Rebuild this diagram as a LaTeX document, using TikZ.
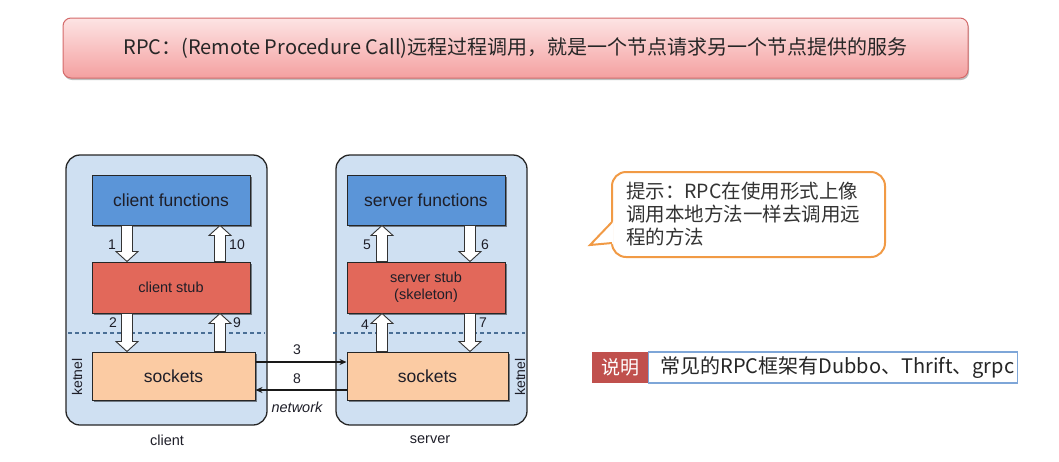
\documentclass[tikz,border=0pt]{standalone}
\usepackage{fontspec}
\setmainfont{Liberation Sans}
\newfontfamily\cjk{Noto Sans CJK SC}
\usetikzlibrary{calc,arrows.meta,shadows}
\definecolor{panelfill}{HTML}{CFE0F2}
\definecolor{funcblue}{HTML}{5B95D8}
\definecolor{stubred}{HTML}{E2685A}
\definecolor{sockpeach}{HTML}{FBCBA3}
\definecolor{textdark}{HTML}{1E1E28}
\definecolor{dashblue}{HTML}{4A6F96}
\definecolor{calloutorange}{HTML}{F19A45}
\definecolor{notered}{HTML}{C0504D}
\definecolor{noteblue}{HTML}{7EA6D8}
\definecolor{bannerborder}{HTML}{D46A6A}
\definecolor{bannertop}{HTML}{FDE4E4}
\definecolor{bannerbot}{HTML}{F4A0A0}
\newcommand\bkdown[3]{\path[blk] let \p1=(#2.south), \p2=(#3.north) in
  ({(#1-5.5)*1pt},\y1) -- ({(#1-5.5)*1pt},{\y2+10pt}) -- ({(#1-11)*1pt},{\y2+10pt}) -- ({#1*1pt},\y2)
  -- ({(#1+11)*1pt},{\y2+10pt}) -- ({(#1+5.5)*1pt},{\y2+10pt}) -- ({(#1+5.5)*1pt},\y1) -- cycle;}
\newcommand\bkup[3]{\path[blk] let \p1=(#2.north), \p2=(#3.south) in
  ({(#1-5.5)*1pt},\y1) -- ({(#1-5.5)*1pt},{\y2-10pt}) -- ({(#1-11)*1pt},{\y2-10pt}) -- ({#1*1pt},\y2)
  -- ({(#1+11)*1pt},{\y2-10pt}) -- ({(#1+5.5)*1pt},{\y2-10pt}) -- ({(#1+5.5)*1pt},\y1) -- cycle;}
\begin{document}
\begin{tikzpicture}[x=1pt,y=-1pt,
  panel/.style={draw=black!85, line width=1.3pt, fill=panelfill, rounded corners=14pt, inner sep=0pt},
  boxbase/.style={draw=black!85, line width=1pt, inner sep=0pt, text=textdark,
    drop shadow={shadow xshift=1.5pt, shadow yshift=-1.5pt, opacity=.45, fill=black}},
  func/.style={boxbase, fill=funcblue, minimum width=158pt, minimum height=50pt, font=\fontsize{17.5}{20}\selectfont},
  stub/.style={boxbase, fill=stubred, minimum width=158pt, minimum height=51pt, font=\fontsize{14.5}{18}\selectfont, align=center},
  sock/.style={boxbase, fill=sockpeach, minimum height=48pt, font=\fontsize{17.5}{20}\selectfont},
  blk/.style={draw=black!80, fill=white, line width=0.9pt, line join=miter},
  num/.style={font=\fontsize{14}{16}\selectfont, text=textdark, inner sep=0pt},
  dashsep/.style={draw=dashblue, line width=1.4pt, dash pattern=on 4pt off 3pt},
  netline/.style={draw=black!90, line width=1.1pt},
  small/.style={font=\fontsize{14.5}{17}\selectfont, text=textdark, inner sep=0pt},
  cjktext/.style={font=\cjk\fontsize{20}{23}\selectfont, text=black!85}
]
\useasboundingbox (0,0) rectangle (1059,461);

% banner
\node[draw=bannerborder, line width=1pt, rounded corners=8pt, top color=bannertop, bottom color=bannerbot,
  minimum width=905pt, minimum height=60pt, inner sep=0pt, cjktext,
  drop shadow={shadow xshift=1pt, shadow yshift=-2pt, opacity=.25, fill=black}]
  (banner) at (515.5,48) {RPC：(Remote Procedure Call)远程过程调用，就是一个节点请求另一个节点提供的服务};

% panels
\node[panel, minimum width=201pt, minimum height=270pt] (cp) at (166.5,290) {};
\node[panel, minimum width=191pt, minimum height=270pt] (sp) at (431.5,290) {};

% dashed kernel boundaries
\coordinate (cdl) at (68,333); \coordinate (cdr) at (265,333);
\coordinate (sdl) at (333,333); \coordinate (sdr) at (525,333);
\draw[dashsep] (cdl) -- (cdr);
\draw[dashsep] (sdl) -- (sdr);

% client boxes
\node[func] (cf) at (171,200) {client functions};
\node[stub] (cs) at (171,287.5) {client stub};
\node[sock, minimum width=163pt] (cso) at (173.5,376) {sockets};
% server boxes
\node[func] (sf) at (426,200) {server functions};
\node[stub] (ss) at (426,287.5) {server stub\\[-1pt](skeleton)};
\node[sock, minimum width=161pt] (sso) at (427.5,376) {sockets};

% block arrows
\bkdown{127}{cf}{cs}
\bkup{220}{cs}{cf}
\bkdown{127}{cs}{cso}
\bkup{220}{cso}{cs}
\bkup{382}{ss}{sf}
\bkdown{470}{sf}{ss}
\bkup{382}{sso}{ss}
\bkdown{470}{ss}{sso}

% step numbers
\node[num] (n1) at (112,245) {1};
\node[num] (n10) at (237,245) {10};
\node[num] (n2) at (113,323) {2};
\node[num] (n9) at (237,323) {9};
\node[num] (n5) at (367,245) {5};
\node[num] (n6) at (485,245) {6};
\node[num] (n4) at (365,325) {4};
\node[num] (n7) at (483,323) {7};

% network
\draw[netline,-{Stealth[length=7pt,width=6pt]}] ([yshift=14pt]cso.east) -- ([yshift=14pt]sso.west);
\draw[netline,-{Stealth[length=7pt,width=6pt]}] ([yshift=-14pt]sso.west) -- ([yshift=-14pt]cso.east);
\node[num] (n3) at (297,350) {3};
\node[num] (n8) at (297,379) {8};
\node[small, font=\itshape\fontsize{14.5}{17}\selectfont] (net) at (297,407) {network};

% kernel labels
\node[small, rotate=90, font=\fontsize{14}{16}\selectfont] (kc) at (77,377) {ketnel};
\node[small, rotate=90, font=\fontsize{14}{16}\selectfont] (ks) at (520,377) {ketnel};
\node[small] (cl) at (167,440) {client};
\node[small] (sl) at (430,440) {server};

% callout
\node[draw=calloutorange, line width=2pt, fill=white, rounded corners=14pt,
  minimum width=273pt, minimum height=85pt, text width=245pt, inner xsep=14pt, inner ysep=0pt,
  align=left, cjktext, font=\cjk\fontsize{19.5}{23}\selectfont, text=black!80] (tip) at (748.5,214.5)
  {提示：RPC在使用形式上像\\调用本地方法一样去调用远\\程的方法};
\coordinate (tail) at (590,245);
\fill[white] (613.5,221) -- (tail) -- (613.5,244) -- cycle;
\draw[calloutorange, line width=2pt, line join=miter] (612,222) -- (tail) -- (612,243);

% note
\node[fill=notered, minimum width=56pt, minimum height=31pt, inner sep=0pt,
  font=\cjk\fontsize{19}{22}\selectfont, text=white] (lab) at (620,367.5) {说明};
\node[draw=noteblue, line width=1.2pt, fill=white, minimum width=369pt, minimum height=31pt,
  inner sep=0pt, anchor=west] (note) at (lab.east) {};
\node[anchor=west, inner sep=0pt, font=\cjk\fontsize{20}{22}\selectfont, text=black!85] (notetext) at ([xshift=12pt]note.west) {常见的RPC框架有Dubbo、Thrift、grpc};
\end{tikzpicture}
\end{document}
